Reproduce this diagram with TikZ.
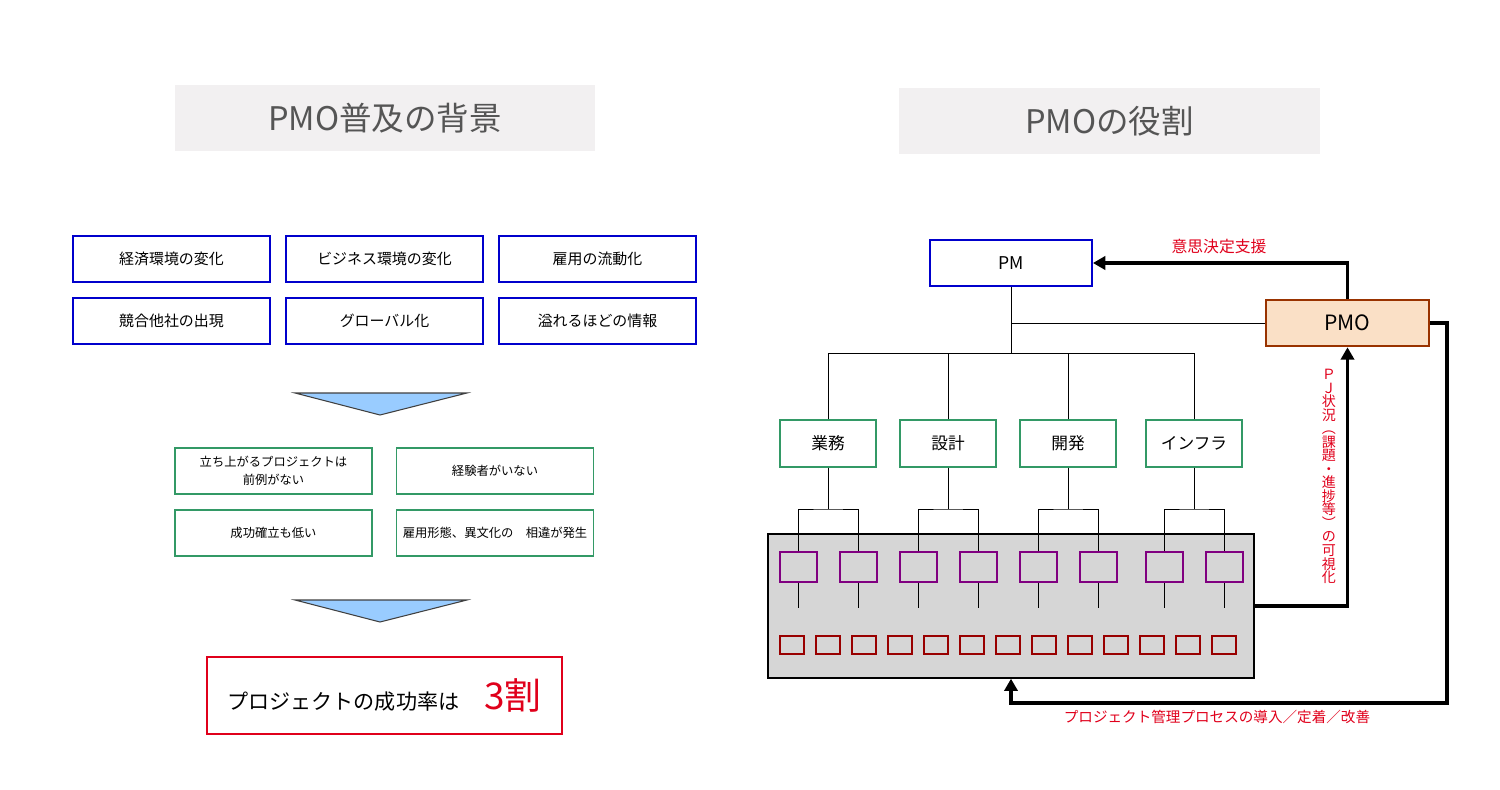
\documentclass[tikz,border=0pt]{standalone}
\usepackage{fontspec}
\setmainfont{Noto Sans CJK JP}
\usetikzlibrary{arrows.meta}
\usepackage{xcolor}
\definecolor{pmoblue}{HTML}{0000CC}
\definecolor{pmogreen}{HTML}{339966}
\definecolor{pmored}{HTML}{E0001B}
\definecolor{pmobrown}{HTML}{993300}
\definecolor{pmopeach}{HTML}{FAE0C6}
\definecolor{titlegrey}{HTML}{F2F0F1}
\definecolor{titletext}{HTML}{555555}
\definecolor{tripale}{HTML}{99CCFF}
\definecolor{unitpurple}{HTML}{800080}
\definecolor{taskred}{HTML}{990000}
\definecolor{basegrey}{HTML}{D6D6D6}

\begin{document}
\begin{tikzpicture}[x=0.02cm, y=-0.02cm,
        title/.style={rectangle, fill=titlegrey, minimum height=1.32cm,
          text=titletext, font=\fontsize{18.5}{20}\selectfont},
        cause/.style={rectangle, draw=pmoblue, line width=1.1pt, fill=white,
          minimum width=3.94cm, minimum height=0.92cm,
          font=\fontsize{8.5}{10}\selectfont},
        issue/.style={rectangle, draw=pmogreen, line width=1.1pt, fill=white,
          minimum width=3.94cm, minimum height=0.92cm, align=center,
          font=\fontsize{7}{10}\selectfont},
        result/.style={rectangle, draw=pmored, line width=0.9pt, fill=white,
          minimum width=7.1cm, minimum height=1.54cm,
          font=\fontsize{12}{14}\selectfont},
        boss/.style={rectangle, draw=pmoblue, line width=1.1pt, fill=white,
          minimum width=3.24cm, minimum height=0.92cm,
          font=\fontsize{10}{12}\selectfont},
        office/.style={rectangle, draw=pmobrown, line width=1.5pt, fill=pmopeach,
          minimum width=3.26cm, minimum height=0.92cm,
          font=\fontsize{12}{14}\selectfont},
        team/.style={rectangle, draw=pmogreen, line width=1.1pt, fill=white,
          minimum width=1.92cm, minimum height=0.93cm,
          font=\fontsize{9.5}{11}\selectfont},
        base/.style={rectangle, draw=black, line width=0.8pt, fill=basegrey,
          minimum width=9.72cm, minimum height=2.88cm},
        unit/.style={rectangle, draw=unitpurple, line width=0.6pt,
          minimum width=0.74cm, minimum height=0.6cm},
        task/.style={rectangle, draw=taskred, line width=0.6pt,
          minimum width=0.48cm, minimum height=0.36cm},
        note/.style={text=pmored, inner sep=0pt, font=\fontsize{8.3}{10}\selectfont},
        funnel/.style={fill=tripale, draw=black!75, line width=0.6pt},
        wire/.style={draw=black, line width=0.45pt},
        flow/.style={draw=black, line width=2pt,
          -{Triangle[length=7pt, width=7.5pt]}},
      ]
      \useasboundingbox (0,0) rectangle (1500,790);

      % Titles
      \node[title, minimum width=8.4cm] (tleft) at (385,118) {PMO普及の背景};
      \node[title, minimum width=8.42cm] (tright) at (1109.5,121) {PMOの役割};

      % Background causes
      \node[cause] (c1) at (171.5,259) {経済環境の変化};
      \node[cause] (c2) at (384.5,259) {ビジネス環境の変化};
      \node[cause] (c3) at (597.5,259) {雇用の流動化};
      \node[cause] (c4) at (171.5,321) {競合他社の出現};
      \node[cause] (c5) at (384.5,321) {グローバル化};
      \node[cause] (c6) at (597.5,321) {溢れるほどの情報};

      % Funnels
      \filldraw[funnel] (295,393) -- (467,393) -- (380,415) -- cycle;
      \filldraw[funnel] (295,600) -- (467,600) -- (380,622) -- cycle;

      % Issues
      \node[issue] (i1) at (273.5,471) {立ち上がるプロジェクトは\\前例がない};
      \node[issue] (i2) at (495,471) {経験者がいない};
      \node[issue] (i3) at (273.5,533) {成功確立も低い};
      \node[issue] (i4) at (495,533) {雇用形態、異文化の　相違が発生};

      % Result
      \node[result] (res) at (384.5,695.5) {プロジェクトの成功率は\hspace{0.5cm}%
        {\color{pmored}\fontsize{21}{24}\selectfont 3割}};

      % Organisation
      \node[boss] (pm) at (1011,263) {PM};
      \node[office] (pmo) at (1347.5,323) {PMO};
      \foreach \x/\t [count=\i] in {828/業務, 948/設計, 1068/開発, 1194/インフラ}
        \node[team] (g\i) at (\x,443.5) {\t};

      \node[base] (base) at (1011,606) {};
      \foreach \x [count=\i] in {798.5,858.5,918.5,978.5,1038.5,1098.5,1164.5,1224.5}
        \node[unit] (p\i) at (\x,567) {};
      \foreach \i in {1,...,13}
        \node[task] (s\i) at ({792+36*(\i-1)},645) {};

      % Org lines
      \coordinate (bus) at (1011,353);
      \coordinate (brk) at (1011,509);
      \draw[wire] (pm.south) -- (bus);
      \draw[wire] (pm.south |- pmo.west) -- (pmo.west);
      \draw[wire] (g1.north |- bus) -- (g4.north |- bus);
      \foreach \i in {1,...,4} {
        \pgfmathtruncatemacro\a{2*\i-1}
        \pgfmathtruncatemacro\b{2*\i}
        \draw[wire] (g\i.north) -- (g\i.north |- bus);
        \draw[wire] (g\i.south) -- (g\i.south |- brk);
        \draw[wire] (p\a.north) |- (g\i.south |- brk) -| (p\b.north);
      }
      \foreach \i in {1,...,8}
        \draw[wire] (p\i.south) -- ++(0,25);

      % Feedback arrows
      \coordinate (loop) at (1447,703);
      \draw[flow] (pmo.north) |- (pm.east);
      \draw[flow] (base.east) -| (pmo.south);
      \draw[flow] (pmo.east) -| (loop) -| (base.south);

      % Arrow labels
      \node[note, font=\fontsize{9}{10}\selectfont] (support) at (1219,247) {意思決定支援};
      \node[note] (improve) at (1217,717) {プロジェクト管理プロセスの導入／定着／改善};
      \node[note, align=center, font=\fontsize{8}{7.7}\selectfont] (visible) at (1329,476.5)
        {Ｐ\\Ｊ\\状\\況\\︵\\課\\題\\・\\進\\捗\\等\\︶\\の\\可\\視\\化};

      \end{tikzpicture}
\end{document}
